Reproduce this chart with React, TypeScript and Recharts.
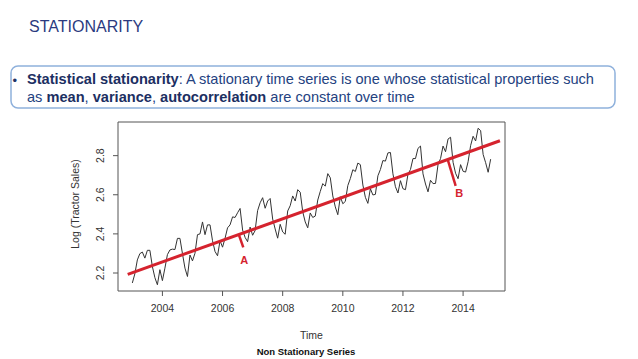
import React from 'react';
import {
  ComposedChart,
  Line,
  XAxis,
  YAxis,
  ReferenceLine,
  ReferenceArea,
  ReferenceDot,
} from 'recharts';

// ---- Data (log10 of monthly tractor sales) ----
const years = [2003, 2004, 2005, 2006, 2007, 2008, 2009, 2010, 2011, 2012, 2013, 2014];
const logSales2003 = [2.149, 2.196, 2.267, 2.299, 2.307, 2.276, 2.316, 2.316, 2.233, 2.176, 2.14, 2.217];
const logSales2004 = [2.161, 2.225, 2.294, 2.318, 2.322, 2.32, 2.377, 2.377, 2.299, 2.225, 2.182, 2.292];
const logSales2005 = [2.262, 2.301, 2.396, 2.4, 2.461, 2.396, 2.446, 2.446, 2.365, 2.31, 2.288, 2.365];
const logSales2006 = [2.332, 2.378, 2.431, 2.446, 2.487, 2.484, 2.508, 2.53, 2.42, 2.382, 2.36, 2.435];
const logSales2007 = [2.393, 2.417, 2.519, 2.559, 2.585, 2.531, 2.568, 2.581, 2.476, 2.425, 2.378, 2.449];
const logSales2008 = [2.41, 2.398, 2.517, 2.544, 2.594, 2.568, 2.626, 2.613, 2.513, 2.461, 2.431, 2.507];
const logSales2009 = [2.484, 2.491, 2.573, 2.617, 2.657, 2.644, 2.708, 2.687, 2.594, 2.538, 2.498, 2.59];
const logSales2010 = [2.554, 2.566, 2.647, 2.683, 2.728, 2.719, 2.762, 2.754, 2.65, 2.587, 2.556, 2.631];
const logSales2011 = [2.599, 2.602, 2.697, 2.729, 2.775, 2.772, 2.814, 2.816, 2.707, 2.641, 2.609, 2.672];
const logSales2012 = [2.631, 2.626, 2.705, 2.729, 2.785, 2.785, 2.837, 2.849, 2.707, 2.655, 2.615, 2.674];
const logSales2013 = [2.657, 2.658, 2.754, 2.785, 2.849, 2.82, 2.885, 2.894, 2.766, 2.71, 2.682, 2.754];
const logSales2014 = [2.72, 2.716, 2.769, 2.851, 2.899, 2.875, 2.94, 2.928, 2.806, 2.764, 2.715, 2.782];
const monthlyLogSales = [
  logSales2003, logSales2004, logSales2005, logSales2006, logSales2007, logSales2008,
  logSales2009, logSales2010, logSales2011, logSales2012, logSales2013, logSales2014,
];

const xTicks = [2004, 2006, 2008, 2010, 2012, 2014];
const yTicks = [2.2, 2.4, 2.6, 2.8];
const xDomain = [2002.523, 2015.394];
const yDomain = [2.108, 2.972];

// Hand-drawn red annotations (data coordinates)
const trendLine = [{ x: 2002.846, y: 2.193 }, { x: 2015.226, y: 2.876 }];
const markA = [{ x: 2006.547, y: 2.394 }, { x: 2006.69, y: 2.331 }];
const markB = [{ x: 2013.487, y: 2.781 }, { x: 2013.753, y: 2.645 }];
const markLabels = [
  { x: 2006.72, y: 2.266, text: 'A' },
  { x: 2013.873, y: 2.611, text: 'B' },
];

const titleText = 'STATIONARITY';
const xAxisTitle = 'Time';
const yAxisTitle = 'Log (Tractor Sales)';
const captionText = 'Non Stationary Series';

const rows: { t: number; v: number }[] = [];
years.forEach((yr, i) => {
  monthlyLogSales[i].forEach((v, m) => {
    rows.push({ t: yr + m / 12, v });
  });
});

const FONT = '"Liberation Sans", Arial, Helvetica, sans-serif';
const RED = '#d5232e';
const AXIS_TEXT = '#333';

const YTick = (props: any) => {
  const { x, y, payload } = props;
  return (
    <text
      x={x}
      y={y}
      transform={`rotate(-90 ${x} ${y})`}
      textAnchor="middle"
      fontSize={10.5}
      fontFamily={FONT}
      fill={AXIS_TEXT}
    >
      {Number(payload.value).toFixed(1)}
    </text>
  );
};

export default function App() {
  return (
    <div
      style={{
        position: 'absolute',
        left: 0,
        top: 0,
        width: 638,
        height: 359,
        background: '#fff',
        overflow: 'hidden',
      }}
    >
      <ComposedChart
        width={638}
        height={359}
        data={rows}
        margin={{ top: 122, right: 133, bottom: 28, left: 68 }}
      >
        <XAxis
          type="number"
          dataKey="t"
          domain={xDomain}
          ticks={xTicks}
          interval={0}
          allowDataOverflow
          axisLine={false}
          tickLine={{ stroke: '#555' }}
          tickSize={5}
          tickMargin={9}
          height={40}
          tick={{ fill: AXIS_TEXT, fontSize: 10.5, fontFamily: FONT }}
        />
        <YAxis
          type="number"
          domain={yDomain}
          ticks={yTicks}
          interval={0}
          allowDataOverflow
          axisLine={false}
          tickLine={{ stroke: '#555' }}
          tickSize={5}
          tickMargin={9}
          width={50}
          tick={<YTick />}
        />
        <ReferenceArea
          x1={xDomain[0]}
          x2={xDomain[1]}
          y1={yDomain[0]}
          y2={yDomain[1]}
          fill="none"
          stroke="#555"
          strokeWidth={1}
        />
        <Line
          type="linear"
          dataKey="v"
          stroke="#333"
          strokeWidth={1}
          dot={false}
          activeDot={false}
          isAnimationActive={false}
        />
        <ReferenceLine segment={trendLine} stroke={RED} strokeWidth={3} />
        <ReferenceLine segment={markA} stroke={RED} strokeWidth={2.5} />
        <ReferenceLine segment={markB} stroke={RED} strokeWidth={2.5} />
        {markLabels.map((m) => (
          <ReferenceDot
            key={m.text}
            x={m.x}
            y={m.y}
            r={0}
            fill="none"
            stroke="none"
            label={{
              value: m.text,
              position: 'center',
              fill: RED,
              fontSize: 11,
              fontWeight: 'bold',
              fontFamily: FONT,
            }}
          />
        ))}
      </ComposedChart>
      <svg
        width={638}
        height={359}
        style={{ position: 'absolute', left: 0, top: 0, pointerEvents: 'none' }}
        fontFamily={FONT}
      >
        <text x={29} y={32} fontSize={16} fill="#2b3a80">
          {titleText}
        </text>
        <rect x={11} y={66} width={604} height={42} rx={7} ry={7} fill="none" stroke="#8fb1dc" strokeWidth={1.5} />
        <text x={12.5} y={85} fontSize={13} fill="#1f3366">•</text>
        <text x={27} y={84} fontSize={14.6} fill="#24427f">
          <tspan fontWeight="bold" fill="#1c2f62">Statistical stationarity</tspan>
          <tspan>{': A stationary time series is one whose statistical properties such'}</tspan>
        </text>
        <text x={27} y={101.5} fontSize={14.6} fill="#24427f">
          <tspan>{'as '}</tspan>
          <tspan fontWeight="bold" fill="#1c2f62">mean</tspan>
          <tspan>{', '}</tspan>
          <tspan fontWeight="bold" fill="#1c2f62">variance</tspan>
          <tspan>{', '}</tspan>
          <tspan fontWeight="bold" fill="#1c2f62">autocorrelation</tspan>
          <tspan>{' are constant over time'}</tspan>
        </text>
        <text
          transform="rotate(-90)"
          x={-204}
          y={79}
          textAnchor="middle"
          fontSize={10.5}
          fill={AXIS_TEXT}
        >
          {yAxisTitle}
        </text>
        <text x={311.5} y={339} textAnchor="middle" fontSize={10.5} fill={AXIS_TEXT}>
          {xAxisTitle}
        </text>
        <text x={306} y={355} textAnchor="middle" fontSize={9.5} fontWeight="bold" fill="#111">
          {captionText}
        </text>
      </svg>
    </div>
  );
}
